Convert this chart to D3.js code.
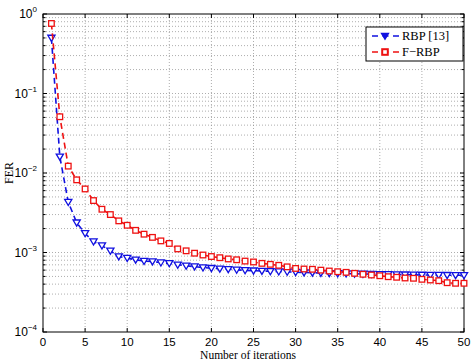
<!DOCTYPE html>
<html><head><meta charset="utf-8">
<script src="https://cdn.jsdelivr.net/npm/d3@7"></script>
<style>body{margin:0;background:#fff}svg{display:block}</style>
</head><body>
<svg id="c" width="474" height="364"></svg>
<script>
const iterations = d3.range(1, 51);
const rbp = [0.5,0.016,0.0043,0.00237,0.00174,0.00137,0.00122,0.00105,0.00089,0.00085,
0.00081,0.00078,0.00077,0.000745,0.00073,0.0007,0.00068,0.000665,0.000645,0.000635,
0.000625,0.000615,0.000605,0.000597,0.00059,0.000585,0.00058,0.000575,0.00057,0.000565,
0.00056,0.000556,0.000552,0.000548,0.000545,0.000542,0.00054,0.000537,0.000535,0.000533,
0.00053,0.000528,0.000526,0.000524,0.000522,0.00052,0.000519,0.000518,0.000517,0.000516];
const frbp = [0.76,0.051,0.0122,0.0082,0.0063,0.0045,0.0035,0.003,0.0025,0.0022,
0.0019,0.0017,0.00155,0.0014,0.0013,0.00111,0.00105,0.00098,0.00093,0.00089,
0.00086,0.00083,0.00081,0.00078,0.00076,0.00073,0.00071,0.00069,0.00066,0.00063,
0.00062,0.000615,0.0006,0.000585,0.000573,0.000563,0.000547,0.000532,0.000521,0.00051,
0.000496,0.000488,0.000478,0.000474,0.00046,0.000451,0.000442,0.000417,0.00041,0.00041];
const xTicks = [0,5,10,15,20,25,30,35,40,45,50];
const yExps = [0,-1,-2,-3,-4];
const seriesNames = ["RBP [13]", "F\u2212RBP"];

const L = 43, T = 14, R = 464, B = 332;
const svg = d3.select("#c");
const x = d3.scaleLinear().domain([0,50]).range([L,R]);
const y = d3.scaleLog().domain([1e-4,1]).range([B,T]);

const minors = [];
for (let e = -4; e < 0; e++) for (let m = 2; m <= 9; m++) minors.push(m*Math.pow(10,e));
const majorsY = yExps.map(e => Math.pow(10,e));

const grid = svg.append("g").attr("stroke","#8a8a8a").attr("stroke-width",0.7).attr("stroke-dasharray","1,2");
xTicks.filter(t => t>0 && t<50).forEach(t => grid.append("line").attr("x1",x(t)).attr("x2",x(t)).attr("y1",T).attr("y2",B));
minors.concat(majorsY.filter(v => v<1 && v>1e-4)).forEach(v => grid.append("line").attr("x1",L).attr("x2",R).attr("y1",y(v)).attr("y2",y(v)));

const ax = svg.append("g").attr("stroke","#000").attr("stroke-width",1).attr("fill","none");
ax.append("rect").attr("x",L).attr("y",T).attr("width",R-L).attr("height",B-T);
xTicks.forEach(t => {
  ax.append("line").attr("x1",x(t)).attr("x2",x(t)).attr("y1",B).attr("y2",B-4);
  ax.append("line").attr("x1",x(t)).attr("x2",x(t)).attr("y1",T).attr("y2",T+4);
});
majorsY.forEach(v => {
  ax.append("line").attr("x1",L).attr("x2",L+4).attr("y1",y(v)).attr("y2",y(v));
  ax.append("line").attr("x1",R).attr("x2",R-4).attr("y1",y(v)).attr("y2",y(v));
});
minors.forEach(v => {
  ax.append("line").attr("x1",L).attr("x2",L+2.5).attr("y1",y(v)).attr("y2",y(v));
  ax.append("line").attr("x1",R).attr("x2",R-2.5).attr("y1",y(v)).attr("y2",y(v));
});

const tf = "Liberation Sans, Arial, sans-serif";
svg.append("g").selectAll("text").data(xTicks).join("text")
  .attr("x", d => x(d)).attr("y", B+13.5).attr("text-anchor","middle")
  .attr("font-family",tf).attr("font-size",11.5).text(d => d);
const yl = svg.append("g").selectAll("text").data(yExps).join("text")
  .attr("x", 37).attr("y", d => y(Math.pow(10,d))+4).attr("text-anchor","end")
  .attr("font-family",tf).attr("font-size",12);
yl.append("tspan").text("10");
yl.append("tspan").attr("dy",-6).attr("font-size",8).text(d => d===0 ? "0" : "\u2212"+(-d));

const sf = "Liberation Serif, Times New Roman, serif";
svg.append("text").attr("x",248).attr("y",359).attr("text-anchor","middle")
  .attr("font-family",sf).attr("font-size",11.5).text("Number of iterations");
svg.append("text").attr("transform",`translate(13,${(T+B)/2}) rotate(-90)`).attr("text-anchor","middle")
  .attr("font-family",sf).attr("font-size",12).text("FER");

const blue = "#1010e0", red = "#ee1111";
const line = d3.line().x((d,i) => x(iterations[i])).y(d => y(d));
function tri(cx, cy, s){ return `M${cx-s},${cy-s*0.75}L${cx+s},${cy-s*0.75}L${cx},${cy+s*0.95}Z`; }
function drawSeries(vals, col, kind){
  svg.append("path").datum(vals).attr("d",line).attr("fill","none").attr("stroke",col)
    .attr("stroke-width",1.6).attr("stroke-dasharray","6,4");
  const g = svg.append("g");
  vals.forEach((v,i) => {
    const cx = x(iterations[i]), cy = y(v);
    if (kind === "tri") g.append("path").attr("d",tri(cx,cy,3.6)).attr("fill","#fff").attr("stroke",col).attr("stroke-width",1.3);
    else g.append("rect").attr("x",cx-2.8).attr("y",cy-2.8).attr("width",5.6).attr("height",5.6).attr("fill","#fff").attr("stroke",col).attr("stroke-width",1.3);
  });
}
drawSeries(rbp, blue, "tri");
drawSeries(frbp, red, "sq");

const lg = svg.append("g");
lg.append("rect").attr("x",366).attr("y",27).attr("width",97).attr("height",34).attr("fill","#fff").attr("stroke","#000").attr("stroke-width",1);
[[blue,"tri",36],[red,"sq",52]].forEach(([col,kind,ly],i) => {
  lg.append("line").attr("x1",371).attr("x2",399).attr("y1",ly).attr("y2",ly).attr("stroke",col).attr("stroke-width",1.6).attr("stroke-dasharray","6,4.5").attr("stroke-dashoffset",-1);
  if (kind==="tri") lg.append("path").attr("d",tri(385,ly,3.6)).attr("fill",col).attr("stroke",col).attr("stroke-width",1.2);
  else lg.append("rect").attr("x",382.2).attr("y",ly-2.8).attr("width",5.6).attr("height",5.6).attr("fill","#fff").attr("stroke",col).attr("stroke-width",2);
  lg.append("text").attr("x",402).attr("y",ly+4).attr("font-family",sf).attr("font-size",12.5).text(seriesNames[i]);
});
</script>
</body></html>
